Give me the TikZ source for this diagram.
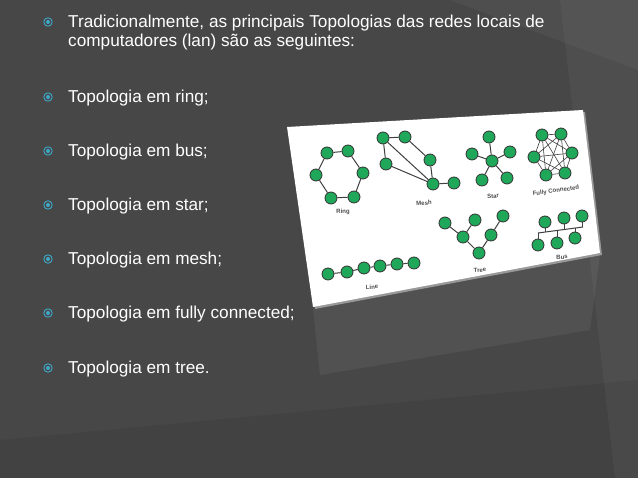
\documentclass[tikz,border=0pt]{standalone}
\usepackage{fontspec}
\setmainfont{Liberation Sans}
\usetikzlibrary{positioning}
\definecolor{slide}{HTML}{474747}
\definecolor{bulletc}{HTML}{3FA9C9}
\definecolor{nodegreen}{HTML}{1FA85A}
\tikzset{
  pc/.style={circle,draw=black!80,line width=0.8pt,fill=nodegreen,inner sep=0pt,minimum size=12pt},
  lnk/.style={draw=black!75,line width=1pt},
  bul/.style={anchor=base west,inner sep=0pt,text=white,font=\fontsize{17.2}{19}\selectfont,align=left},
  toplabel/.style={font=\bfseries\fontsize{6}{7}\selectfont,text=black!70,rotate=3}
}
\begin{document}
\begin{tikzpicture}[x=1pt,y=-1pt]
\fill[slide] (0,0) rectangle (638,478);
\useasboundingbox (0,0) rectangle (638,478);
% background bands
\fill[white,opacity=0.04] (450,0) -- (638,0) -- (638,70) -- cycle;
\fill[white,opacity=0.04] (560,0) -- (638,0) -- (638,478) -- (615,478) -- cycle;
\fill[black,opacity=0.06] (0,440) -- (638,380) -- (638,478) -- (0,478) -- cycle;
% bullets
\foreach \yy in {22,97,151,205,259,313,368}{
  \draw[bulletc,line width=0.9pt] (48,\yy) circle (4.2);
  \fill[bulletc] (48,\yy) circle (2);
}
\node[bul] (t1) at (68,28) {Tradicionalmente, as principais Topologias das redes locais de};
\node[bul] (t2) at (68,47) {computadores (lan) são as seguintes:};
\node[bul] (t3) at (68,103) {Topologia em ring;};
\node[bul] (t4) at (68,157) {Topologia em bus;};
\node[bul] (t5) at (68,211) {Topologia em star;};
\node[bul] (t6) at (68,265) {Topologia em mesh;};
\node[bul] (t7) at (68,319) {Topologia em fully connected;};
\node[bul] (t8) at (68,374) {Topologia em tree.};
% picture card and reflection
\fill[white,opacity=0.06] (313,309) -- (600,255) -- (590,330) -- (320,375) -- cycle;
\fill[black!40] (289,129) -- (585,112) -- (602,255) -- (315,309) -- cycle;
\fill[white] (287,127) -- (583,110) -- (600,253) -- (313,307) -- cycle;
% ring
\foreach \n/\x/\y in {1/327/153,2/348/151,3/363/173,4/354/197,5/331/198,6/316/175}
  \node[pc] (r\n) at (\x,\y) {};
\draw[lnk] (r1)--(r2)--(r3)--(r4)--(r5)--(r6)--(r1);
\node[toplabel] (ringl) at (343,212) {Ring};
% mesh
\foreach \n/\x/\y in {1/383/138,2/405/137,3/386/164,4/430/160,5/433/184,6/454/183}
  \node[pc] (m\n) at (\x,\y) {};
\draw[lnk] (m1)--(m2)--(m4)--(m5)--(m6) (m1)--(m3)--(m5) (m1)--(m5);
\node[toplabel] (meshl) at (424,203) {Mesh};
% star
\node[pc] (s0) at (492,161) {};
\foreach \n/\x/\y in {1/489/137,2/472/154,3/510/152,4/482/180,5/507/178}{
  \node[pc] (s\n) at (\x,\y) {};
  \draw[lnk] (s0)--(s\n);
}
\node[toplabel] (starl) at (493,196) {Star};
% fully connected
\foreach \n/\x/\y in {1/542/135,2/561/134,3/572/153,4/565/173,5/546/175,6/534/157}
  \node[pc] (f\n) at (\x,\y) {};
\foreach \a in {1,...,6}{
  \foreach \b in {1,...,6}{
    \ifnum\a<\b \draw[lnk,line width=0.6pt] (f\a)--(f\b);\fi
  }
}
\node[toplabel,rotate=5] (fulll) at (556,191) {Fully Connected};
% tree
\foreach \n/\x/\y in {1/445/223,2/475/220,3/503/216,4/463/237,5/491/235,6/479/253}
  \node[pc] (tr\n) at (\x,\y) {};
\draw[lnk] (tr1)--(tr4)--(tr6)--(tr5)--(tr3) (tr2)--(tr4);
\node[toplabel] (treel) at (480,270) {Tree};
% bus
\coordinate (busa) at (538,233);
\coordinate (busb) at (583,227);
\draw[lnk] (busa)--(busb);
\foreach \n/\x/\y in {1/545/222,2/564/218,3/582/216}{
  \node[pc] (bt\n) at (\x,\y) {};
}
\foreach \n/\x/\y in {1/538/245,2/557/243,3/575/238}{
  \node[pc] (bb\n) at (\x,\y) {};
}
\draw[lnk] (bt1)--(545,232) (bt2)--(564,229.5) (bt3)--(582,227)
  (bb1)--(538,233) (bb2)--(557,230.5) (bb3)--(575,228);
\node[toplabel] (busl) at (562,257) {Bus};
% line
\foreach \n/\x/\y in {1/328/274,2/347/272,3/364/268,4/380/266,5/397/264,6/414/263}
  \node[pc] (l\n) at (\x,\y) {};
\draw[lnk] (l1)--(l2)--(l3)--(l4)--(l5)--(l6);
\node[toplabel] (linel) at (372,287) {Line};
\end{tikzpicture}
\end{document}
